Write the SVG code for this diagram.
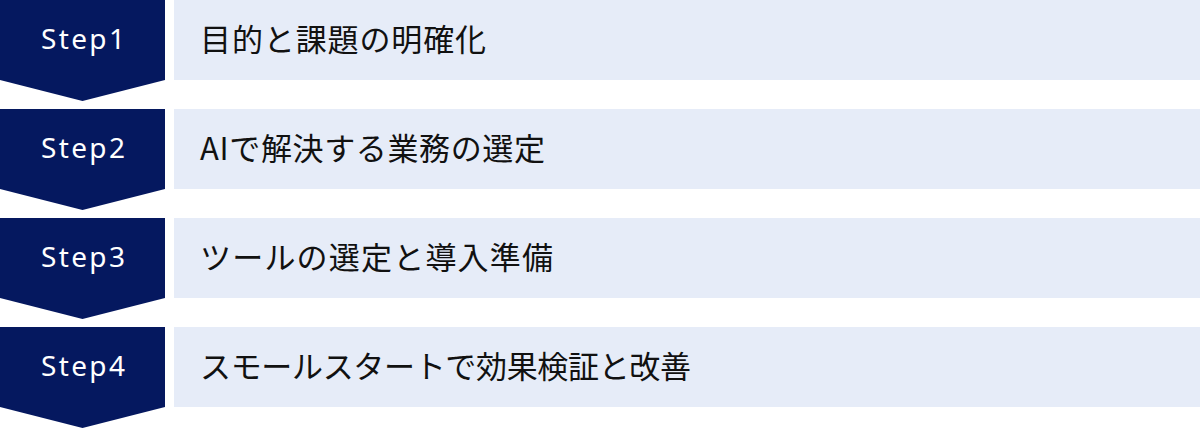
<svg xmlns="http://www.w3.org/2000/svg" width="1200" height="429" viewBox="0 0 1200 429">
<defs>
<style>
.badge{fill:#05185f}
.panel{fill:#e6ecf8}
.step{font-family:"Noto Sans","DejaVu Sans",sans-serif;font-size:28px;fill:#ffffff}
.label{font-family:"Noto Sans CJK JP","Noto Sans",sans-serif;font-size:31px;fill:#111111}
</style>
<polygon id="chevron" points="0,0 165,0 165,80 82.5,101 0,80"/>
</defs>
<g id="connectors"></g>
<g id="step1">
<use href="#chevron" class="badge"/>
<rect class="panel" x="174" y="0" width="1026" height="80"/>
<text class="step" x="41" y="48.5" textLength="84" lengthAdjust="spacing">Step1</text>
<text class="label" x="200" y="51" textLength="286" lengthAdjust="spacing">目的と課題の明確化</text>
</g>
<g id="step2" transform="translate(0,109)">
<use href="#chevron" class="badge"/>
<rect class="panel" x="174" y="0" width="1026" height="80"/>
<text class="step" x="41" y="48.5" textLength="84" lengthAdjust="spacing">Step2</text>
<text class="label" x="200" y="51" textLength="345" lengthAdjust="spacing">AIで解決する業務の選定</text>
</g>
<g id="step3" transform="translate(0,218)">
<use href="#chevron" class="badge"/>
<rect class="panel" x="174" y="0" width="1026" height="80"/>
<text class="step" x="41" y="48.5" textLength="84" lengthAdjust="spacing">Step3</text>
<text class="label" x="200" y="51" textLength="353" lengthAdjust="spacing">ツールの選定と導入準備</text>
</g>
<g id="step4" transform="translate(0,327)">
<use href="#chevron" class="badge"/>
<rect class="panel" x="174" y="0" width="1026" height="80"/>
<text class="step" x="41" y="48.5" textLength="84" lengthAdjust="spacing">Step4</text>
<text class="label" x="200" y="51" textLength="491" lengthAdjust="spacing">スモールスタートで効果検証と改善</text>
</g>
</svg>
